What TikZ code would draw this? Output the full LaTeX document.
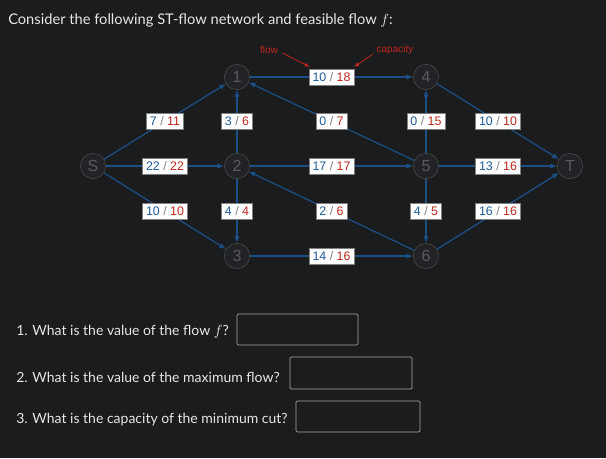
\documentclass[tikz,border=0pt]{standalone}
\usepackage{fontspec}
\setmainfont{Lato}
\newfontfamily\lab{Liberation Sans}
\usetikzlibrary{arrows.meta}
\definecolor{bg}{HTML}{1B1C1E}
\definecolor{edge}{HTML}{1B4F86}
\definecolor{fl}{HTML}{1F5C9A}
\definecolor{capc}{HTML}{C0281E}
\definecolor{ncol}{HTML}{222326}
\definecolor{ntext}{HTML}{5A5B5E}
\definecolor{qtext}{HTML}{E6E6E6}
\begin{document}
\begin{tikzpicture}[x=0.75pt,y=-0.75pt,
  vert/.style={circle,draw=black!70,fill=ncol,minimum size=19pt,inner sep=0pt,font=\lab\fontsize{12}{12}\selectfont,text=ntext},
  lbl/.style={fill=white,draw=gray,line width=0.3pt,inner sep=2.6pt,font=\lab\fontsize{9.3}{10}\selectfont},
  e/.style={draw=edge,line width=0.9pt,-{Latex[length=5pt,width=4pt]}},
  ansbox/.style={draw=gray!70,fill=bg,rounded corners=1pt,line width=0.6pt},
  q/.style={anchor=west,text=qtext,font=\fontsize{10.5}{12}\selectfont,inner sep=0pt}]
\fill[bg] (0,0) rectangle (606,458);
\useasboundingbox (0,0) rectangle (606,458);
\node[anchor=west,text=qtext,font=\fontsize{11}{13}\selectfont,inner sep=0pt] (title) at (8,21) {Consider the following ST-flow network and feasible flow $f$:};
\node[vert] (S) at (93,166) {S};
\node[vert] (n1) at (237,77) {1};
\node[vert] (n2) at (237,166) {2};
\node[vert] (n3) at (237,256) {3};
\node[vert] (n4) at (426,77) {4};
\node[vert] (n5) at (426,166) {5};
\node[vert] (n6) at (426,256) {6};
\node[vert] (T) at (570,166) {T};
\newcommand{\fc}[2]{\textcolor{fl}{#1} \textcolor{gray}{/} \textcolor{capc}{#2}}
\foreach \a/\b/\f/\c in {S/n1/7/11,S/n2/22/22,S/n3/10/10,n2/n1/3/6,n2/n3/4/4,n1/n4/10/18,n5/n1/0/7,n2/n5/17/17,n6/n2/2/6,n3/n6/14/16,n5/n4/0/15,n5/n6/4/5,n4/T/10/10,n5/T/13/16,n6/T/16/16}{
  \draw[e] (\a) -- node[lbl]{\fc{\f}{\c}} (\b);
}
\node[text=capc,font=\lab\fontsize{7.5}{8}\selectfont,inner sep=1pt] (flow) at (269,50) {flow};
\node[text=capc,font=\lab\fontsize{7.5}{8}\selectfont,inner sep=1pt] (capl) at (395,50) {capacity};
\coordinate (fa) at (310,67);
\coordinate (ca) at (354,67);
\draw[draw=capc,line width=0.6pt,-{Latex[length=4pt,width=3pt]}] (flow.east) ++(3,3) -- (fa);
\draw[draw=capc,line width=0.6pt,-{Latex[length=4pt,width=3pt]}] (capl.west) ++(-2,4) -- (ca);
\node[q] (q1) at (16,332) {1. What is the value of the flow $f$?};
\node[q] (q2) at (16,377) {2. What is the value of the maximum flow?};
\node[q] (q3) at (16,420) {3. What is the capacity of the minimum cut?};
\draw[ansbox] (237,314) rectangle (358,345);
\draw[ansbox] (290,357) rectangle (412,389);
\draw[ansbox] (296,401) rectangle (420,432);
\end{tikzpicture}
\end{document}
